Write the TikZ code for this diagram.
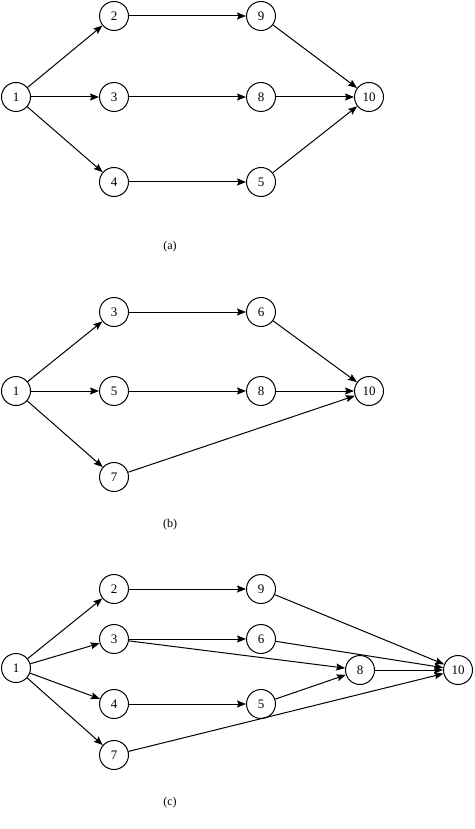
\documentclass[tikz,border=0pt]{standalone}
\usepackage{fontspec}
\setmainfont{Liberation Serif}
\usetikzlibrary{arrows.meta}
\tikzset{
  vertex/.style={draw, circle, line width=1pt, minimum size=29pt, inner sep=0pt, font=\fontsize{13}{13}\selectfont},
  edge/.style={line width=1pt, -{Stealth[length=9pt,width=7pt,inset=1.5pt]}},
  caption/.style={font=\fontsize{12}{12}\selectfont}
}
\begin{document}
\begin{tikzpicture}[x=1pt, y=-1pt]
      \useasboundingbox (0,0) rectangle (474,829);
      % (a)
      \draw
        (16,97) node[vertex] (a1){1}
        (114,16) node[vertex] (a2){2}
        (114,97) node[vertex] (a3){3}
        (114,182) node[vertex] (a4){4}
        (261,182) node[vertex] (a5){5}
        (261,97) node[vertex] (a8){8}
        (261,16) node[vertex] (a9){9}
        (369,97) node[vertex] (a10){10}
        (170,247) node[caption] (acap){(a)};
      \begin{scope}[edge]
        \draw (a1) to (a2);
        \draw (a1) to (a3);
        \draw (a1) to (a4);
        \draw (a2) to (a9);
        \draw (a3) to (a8);
        \draw (a4) to (a5);
        \draw (a9) to (a10);
        \draw (a8) to (a10);
        \draw (a5) to (a10);
      \end{scope}
      % (b)
      \draw
        (16,391) node[vertex] (b1){1}
        (114,312) node[vertex] (b3){3}
        (114,391) node[vertex] (b5){5}
        (114,477) node[vertex] (b7){7}
        (261,312) node[vertex] (b6){6}
        (261,391) node[vertex] (b8){8}
        (369,391) node[vertex] (b10){10}
        (170,525) node[caption] (bcap){(b)};
      \begin{scope}[edge]
        \draw (b1) to (b3);
        \draw (b1) to (b5);
        \draw (b1) to (b7);
        \draw (b3) to (b6);
        \draw (b5) to (b8);
        \draw (b6) to (b10);
        \draw (b8) to (b10);
        \draw (b7) to (b10);
      \end{scope}
      % (c)
      \draw
        (16,668) node[vertex] (c1){1}
        (114,589) node[vertex] (c2){2}
        (114,639) node[vertex] (c3){3}
        (114,704) node[vertex] (c4){4}
        (114,755) node[vertex] (c7){7}
        (261,589) node[vertex] (c9){9}
        (261,639) node[vertex] (c6){6}
        (261,704) node[vertex] (c5){5}
        (360,670) node[vertex] (c8){8}
        (458,670) node[vertex] (c10){10}
        (170,803) node[caption] (ccap){(c)};
      \begin{scope}[edge]
        \draw (c1) to (c2);
        \draw (c1) to (c3);
        \draw (c1) to (c4);
        \draw (c1) to (c7);
        \draw (c2) to (c9);
        \draw (c3) to (c6);
        \draw (c3) to (c8);
        \draw (c4) to (c5);
        \draw (c5) to (c8);
        \draw (c9) to (c10);
        \draw (c6) to (c10);
        \draw (c8) to (c10);
        \draw (c7) to (c10);
      \end{scope}
    \end{tikzpicture}
\end{document}
